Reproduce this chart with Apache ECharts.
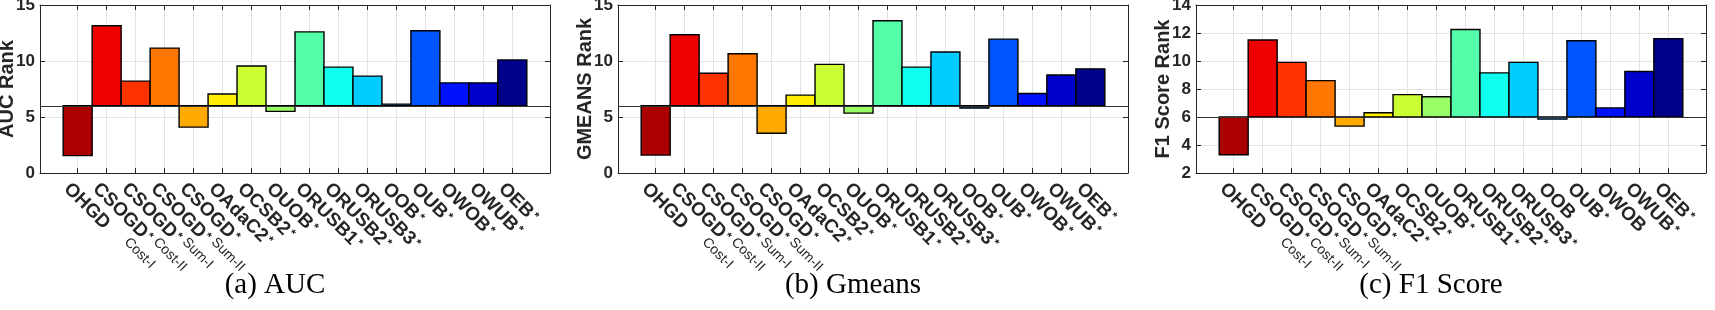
<!DOCTYPE html>
<html>
<head>
<meta charset="utf-8">
<script src="https://cdn.jsdelivr.net/npm/echarts@6/dist/echarts.min.js"></script>
<style>
  html, body { margin: 0; padding: 0; background: #fff; }
  #chart { width: 1715px; height: 310px; }
</style>
</head>
<body>
<div id="chart"></div>
<script>
  // methods along the x axis (same order in all three panels)
  const methods = ['OHGD', 'CSOGD', 'CSOGD', 'CSOGD', 'CSOGD', 'OAdaC2', 'OCSB2', 'OUOB',
    'ORUSB1', 'ORUSB2', 'ORUSB3', 'OOB', 'OUB', 'OWOB', 'OWUB', 'OEB'];
  const subscripts = ['', 'Cost-I', 'Cost-II', 'Sum-I', 'Sum-II', '', '', '', '', '', '', '', '', '', '', ''];
  // 1 = label carries the superscript star
  const starsAUC = [0, 1, 1, 1, 1, 1, 1, 1, 1, 1, 1, 1, 1, 1, 1, 1];
  const starsGmeans = [0, 1, 1, 1, 1, 1, 1, 1, 1, 1, 1, 1, 1, 1, 1, 1];
  const starsF1 = [0, 1, 1, 1, 1, 1, 1, 1, 1, 1, 1, 0, 1, 0, 1, 1];

  // average ranks
  const aucRank = [1.55, 13.15, 8.2, 11.15, 4.1, 7.05, 9.55, 5.5, 12.6, 9.45, 8.65, 6.15, 12.7, 8.05, 8.05, 10.1];
  const gmeansRank = [1.6, 12.35, 8.9, 10.65, 3.55, 6.95, 9.7, 5.35, 13.6, 9.45, 10.8, 5.8, 11.95, 7.1, 8.75, 9.3];
  const f1Rank = [3.3, 11.5, 9.9, 8.6, 5.35, 6.3, 7.6, 7.45, 12.25, 9.15, 9.9, 5.85, 11.45, 6.65, 9.25, 11.6];

  // bars grow up / down from this rank
  const baseline = 6;

  // jet-like colours, one per method
  const barColors = ['#aa0000', '#ee0000', '#ff3300', '#ff7700', '#ffaa00', '#ffee00', '#ccff33', '#99ff66',
    '#55ffaa', '#11ffee', '#00ccff', '#0090ff', '#0055ff', '#0011ff', '#0000cc', '#000088'];

  const axisColor = '#262626';
  const gridColor = '#e3e3e3';
  const tickPos = methods.map((m, i) => i + 1);
  // blank labels at both ends so the min/max label check never drops a real name
  const labelPos = [0].concat(tickPos, [tickPos.length + 1]);

  const panels = [
    {left: 40, name: 'AUC Rank', caption: '(a) AUC', values: aucRank, stars: starsAUC, min: 0, max: 15, step: 5},
    {left: 618, name: 'GMEANS Rank', caption: '(b) Gmeans', values: gmeansRank, stars: starsGmeans, min: 0, max: 15, step: 5},
    {left: 1196, name: 'F1 Score Rank', caption: '(c) F1 Score', values: f1Rank, stars: starsF1, min: 2, max: 14, step: 2}
  ];
  const plotTop = 5, plotHeight = 168, plotWidth = 510;

  // subscript sits on its own line, pushed along to sit under the end of the name
  const labelRich = {
    m: {fontSize: 19, fontWeight: 'bold', fontFamily: 'Liberation Sans', color: axisColor, lineHeight: 22, verticalAlign: 'top', padding: [6, 0, 0, 0]},
    s: {fontSize: 12, fontWeight: 'bold', fontFamily: 'Liberation Sans', color: axisColor, verticalAlign: 'top', padding: [7, 0, 0, 2]},
    b: {fontSize: 14, fontFamily: 'Liberation Sans', color: axisColor, lineHeight: 20, padding: [0, 0, 0, 60]}
  };

  function makeLabel(value, stars) {
    const i = Math.round(value) - 1;
    if (i < 0 || i >= methods.length) return ' ';
    let s = '{m|' + methods[i] + '}';
    if (stars[i]) s += '{s|*}';
    if (subscripts[i]) s += '\n{b|' + subscripts[i] + '}';
    return s;
  }

  function renderBar(params, api) {
    const x = api.value(0);
    const v = api.value(1);
    const a = api.coord([x - 0.5, Math.max(v, baseline)]);
    const b = api.coord([x + 0.5, Math.min(v, baseline)]);
    return {
      type: 'rect',
      shape: {x: a[0], y: a[1], width: b[0] - a[0], height: b[1] - a[1]},
      style: {fill: barColors[params.dataIndex], stroke: '#000', lineWidth: 1.4}
    };
  }

  const grid = [], xAxis = [], yAxis = [], series = [], title = [], graphic = [];
  panels.forEach((p, i) => {
    grid.push({left: p.left, top: plotTop, width: plotWidth, height: plotHeight, outerBoundsMode: 'none', containLabel: false});
    // bottom axis with the method names
    xAxis.push({
      gridIndex: i, type: 'value', min: -0.3, max: 17.3, position: 'bottom',
      axisLine: {show: true, onZero: false, lineStyle: {color: axisColor, width: 1}},
      axisTick: {show: true, inside: true, length: 5, customValues: tickPos, lineStyle: {color: axisColor}},
      axisLabel: {
        show: true, customValues: labelPos, rotate: -45, align: 'left', verticalAlign: 'top', margin: 2,
        showMinLabel: false, showMaxLabel: false, hideOverlap: false,
        formatter: v => makeLabel(v, p.stars), rich: labelRich
      },
      splitLine: {show: true, lineStyle: {color: gridColor, width: 1}}
    });
    // top edge of the box
    xAxis.push({
      gridIndex: i, type: 'value', min: -0.3, max: 17.3, position: 'top',
      axisLine: {show: true, onZero: false, lineStyle: {color: axisColor, width: 1}},
      axisTick: {show: true, inside: true, length: 5, customValues: tickPos, lineStyle: {color: axisColor}},
      axisLabel: {show: false},
      splitLine: {show: false}
    });
    yAxis.push({
      gridIndex: i, type: 'value', min: p.min, max: p.max, interval: p.step, position: 'left',
      axisLine: {show: true, onZero: false, lineStyle: {color: axisColor, width: 1}},
      axisTick: {show: true, inside: true, length: 5, lineStyle: {color: axisColor}},
      axisLabel: {margin: 5, fontSize: 17, fontWeight: 'bold', fontFamily: 'Liberation Sans', color: axisColor},
      splitLine: {show: true, lineStyle: {color: gridColor, width: 1}}
    });
    // right edge of the box
    yAxis.push({
      gridIndex: i, type: 'value', min: p.min, max: p.max, interval: p.step, position: 'right',
      axisLine: {show: true, onZero: false, lineStyle: {color: axisColor, width: 1}},
      axisTick: {show: true, inside: true, length: 5, lineStyle: {color: axisColor}},
      axisLabel: {show: false},
      splitLine: {show: false}
    });
    series.push({
      type: 'custom',
      xAxisIndex: 2 * i,
      yAxisIndex: 2 * i,
      clip: true,
      renderItem: renderBar,
      data: p.values.map((v, k) => [tickPos[k], v]),
      markLine: {
        silent: true, symbol: 'none', label: {show: false},
        lineStyle: {color: '#333', width: 1, type: 'solid'},
        data: [{yAxis: baseline}]
      }
    });
    // y axis title, rotated
    graphic.push({
      type: 'text', x: p.left - 33, y: plotTop + plotHeight / 2, rotation: Math.PI / 2,
      style: {text: p.name, font: 'bold 20px "Liberation Sans"', fill: axisColor, align: 'center', verticalAlign: 'middle'}
    });
    title.push({
      text: p.caption, left: p.left + 235, top: 271, textAlign: 'center', padding: 0,
      textStyle: {fontFamily: 'Liberation Serif', fontSize: 29, fontWeight: 'normal', color: '#000'}
    });
  });

  const chart = echarts.init(document.getElementById('chart'));
  chart.setOption({
    animation: false,
    backgroundColor: '#fff',
    title: title,
    grid: grid,
    xAxis: xAxis,
    yAxis: yAxis,
    graphic: graphic,
    series: series
  });
</script>
</body>
</html>
